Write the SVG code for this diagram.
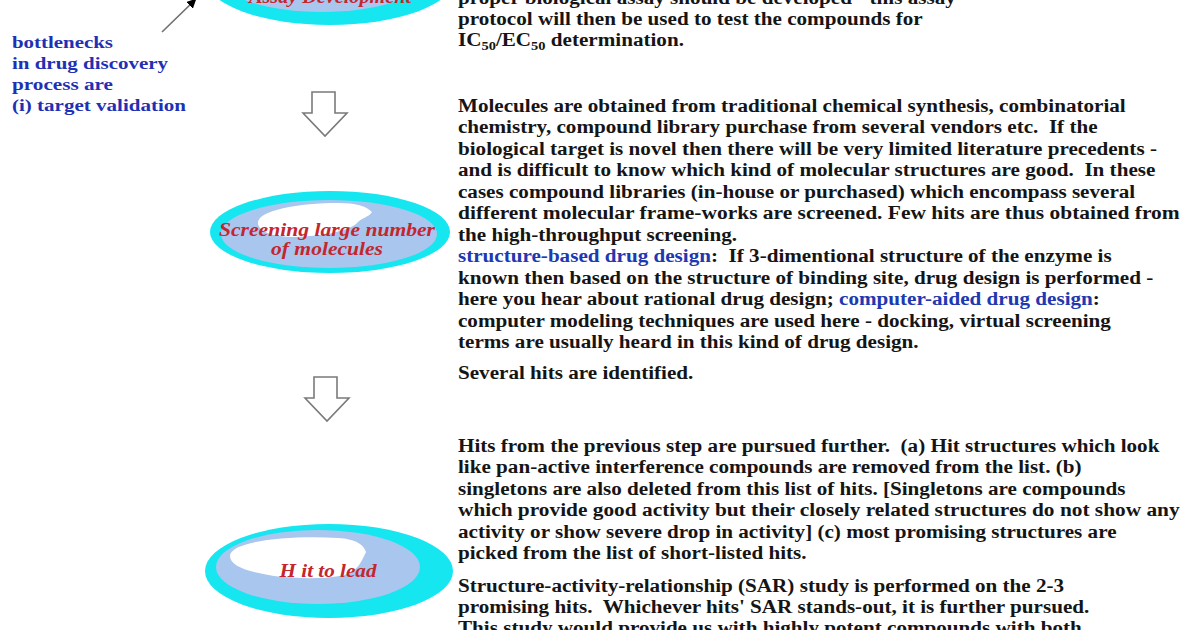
<svg xmlns="http://www.w3.org/2000/svg" width="1200" height="630" viewBox="0 0 1200 630">
<style>
.body{font-weight:bold;font-size:19px;fill:#151515;white-space:pre}
.link{fill:#2038b0}
.note{font-weight:bold;font-size:17.5px;fill:#1e30b4}
.lbl{font-weight:bold;font-style:italic;font-size:19px;fill:#c3262e;text-anchor:middle}
.outer{fill:#16e6f0}
.inner{fill:#a8c6ee}
.hl{fill:#ffffff}
.blk{fill:#ffffff;stroke:#7a7a7a;stroke-width:1.6;stroke-linejoin:miter}
.ptr{stroke:#707070;stroke-width:1.6;fill:none}
</style>
<defs>
<marker id="head" viewBox="0 0 10 10" refX="8" refY="5" markerWidth="6" markerHeight="6" orient="auto" markerUnits="strokeWidth">
<path d="M0,0 L10,5 L0,10 z" fill="#000"/>
</marker>
</defs>
<rect width="1200" height="630" fill="#ffffff"/>

<g id="node-assay" font-family="Liberation Serif, serif">
<ellipse class="outer" cx="330" cy="-22" rx="125" ry="47"/>
<ellipse class="inner" cx="322" cy="-24" rx="104" ry="36"/>
<text class="lbl" x="330" y="3" textLength="162" lengthAdjust="spacingAndGlyphs">Assay Development</text>
</g>

<g id="node-screening" font-family="Liberation Serif, serif">
<ellipse class="outer" cx="330" cy="232" rx="120" ry="41"/>
<ellipse class="inner" cx="329" cy="234" rx="108" ry="34"/>
<path class="hl" d="M258,224 C256,210 300,203 338,203 C356,203 366,206 372,212 C368,218 362,217 356,224 C346,232 320,236 296,237 C272,237 260,232 258,224 Z"/>
<text class="lbl" x="327" y="236" textLength="216" lengthAdjust="spacingAndGlyphs">Screening large number</text>
<text class="lbl" x="327" y="255" textLength="112" lengthAdjust="spacingAndGlyphs">of molecules</text>
</g>

<g id="node-hit" font-family="Liberation Serif, serif">
<ellipse class="outer" cx="329" cy="571" rx="124" ry="47"/>
<ellipse class="inner" cx="318" cy="567" rx="102" ry="37"/>
<path class="hl" d="M230,556 C230,541 290,535 338,538 C356,539 364,545 366,552 C362,560 360,566 352,572 C336,580 300,579 274,576 C248,572 230,566 230,556 Z"/>
<text class="lbl" x="328" y="577" textLength="97" lengthAdjust="spacingAndGlyphs">H it to lead</text>
</g>

<g id="note-bottlenecks" font-family="Liberation Serif, serif">
<text class="note" x="12" y="48" textLength="101" lengthAdjust="spacingAndGlyphs">bottlenecks</text>
<text class="note" x="12" y="69" textLength="156" lengthAdjust="spacingAndGlyphs">in drug discovery</text>
<text class="note" x="12" y="90" textLength="101" lengthAdjust="spacingAndGlyphs">process are</text>
<text class="note" x="12" y="111" textLength="174" lengthAdjust="spacingAndGlyphs">(i) target validation</text>
</g>

<g id="connectors">
<line class="ptr" x1="162" y1="32" x2="195" y2="0" marker-end="url(#head)"/>
<polygon class="blk" points="312,92 335,92 335,113 347,113 325,136 303,113 312,113"/>
<polygon class="blk" points="314,377 337,377 337,398 349,398 327,421 305,398 314,398"/>
</g>

<g id="text-assay" font-family="Liberation Serif, serif" transform="matrix(1.112,0,0,1,-51.3,0)">
<text class="body" x="458" y="4">proper biological assay should be developed - this assay</text>
<text class="body" x="458" y="25">protocol will then be used to test the compounds for</text>
<text class="body" x="458" y="46">IC<tspan font-size="13" dy="4">50</tspan><tspan dy="-4">/EC</tspan><tspan font-size="13" dy="4">50</tspan><tspan dy="-4"> determination.</tspan></text>
</g>

<g id="text-screening" font-family="Liberation Serif, serif" transform="matrix(1.112,0,0,1,-51.3,0)">
<text class="body" x="458" y="112">Molecules are obtained from traditional chemical synthesis, combinatorial</text>
<text class="body" x="458" y="133.5">chemistry, compound library purchase from several vendors etc.  If the</text>
<text class="body" x="458" y="155">biological target is novel then there will be very limited literature precedents -</text>
<text class="body" x="458" y="176.5">and is difficult to know which kind of molecular structures are good.  In these</text>
<text class="body" x="458" y="198">cases compound libraries (in-house or purchased) which encompass several</text>
<text class="body" x="458" y="219.5" textLength="649" lengthAdjust="spacingAndGlyphs">different molecular frame-works are screened. Few hits are thus obtained from</text>
<text class="body" x="458" y="241">the high-throughput screening.</text>
<text class="body" x="458" y="262.5"><tspan class="link">structure-based drug design</tspan>:  If 3-dimentional structure of the enzyme is</text>
<text class="body" x="458" y="284">known then based on the structure of binding site, drug design is performed -</text>
<text class="body" x="458" y="305.5">here you hear about rational drug design; <tspan class="link">computer-aided drug design</tspan>:</text>
<text class="body" x="458" y="327">computer modeling techniques are used here - docking, virtual screening</text>
<text class="body" x="458" y="348.5">terms are usually heard in this kind of drug design.</text>
<text class="body" x="458" y="379">Several hits are identified.</text>
</g>

<g id="text-hit" font-family="Liberation Serif, serif" transform="matrix(1.112,0,0,1,-51.3,0)">
<text class="body" x="458" y="452">Hits from the previous step are pursued further.  (a) Hit structures which look</text>
<text class="body" x="458" y="473.5">like pan-active interference compounds are removed from the list. (b)</text>
<text class="body" x="458" y="495">singletons are also deleted from this list of hits. [Singletons are compounds</text>
<text class="body" x="458" y="516.5" textLength="649" lengthAdjust="spacingAndGlyphs">which provide good activity but their closely related structures do not show any</text>
<text class="body" x="458" y="538">activity or show severe drop in activity] (c) most promising structures are</text>
<text class="body" x="458" y="559.5">picked from the list of short-listed hits.</text>
<text class="body" x="458" y="592">Structure-activity-relationship (SAR) study is performed on the 2-3</text>
<text class="body" x="458" y="613">promising hits.  Whichever hits' SAR stands-out, it is further pursued.</text>
<text class="body" x="458" y="634">This study would provide us with highly potent compounds with both</text>
</g>
</svg>
